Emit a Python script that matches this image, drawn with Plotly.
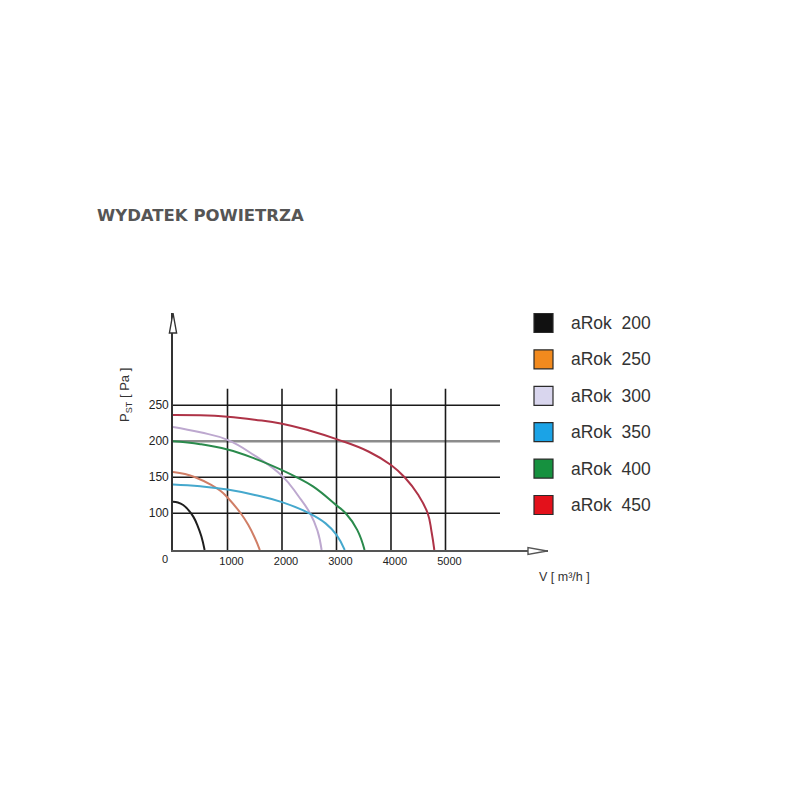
import plotly.graph_objects as go

# fan curves: air volume V [m3/h] against static pressure P [Pa]
SERIES = ['aRok 200', 'aRok 250', 'aRok 300', 'aRok 350', 'aRok 400', 'aRok 450']

V_200 = [0, 90, 187, 300, 375, 450, 520, 580]
P_200 = [116, 115, 111.5, 103, 95, 83, 68, 49]

V_250 = [0, 220, 406, 710, 875, 1000, 1242, 1380, 1500, 1593]
P_250 = [157.5, 154.5, 150, 139, 131, 122, 100, 84, 66, 49]

V_300 = [0, 500, 1000, 1500, 2000, 2300, 2515, 2650, 2727]
P_300 = [220, 212.5, 202, 180, 152, 124, 100, 76, 49]

V_350 = [0, 500, 1000, 1500, 2000, 2502, 2800, 3000, 3151]
P_350 = [140, 137.5, 133, 125.5, 115.5, 100, 86, 70, 49]

V_400 = [0, 500, 1000, 1500, 2000, 2273, 2575, 3000, 3169, 3380, 3515]
P_400 = [200, 196, 188.5, 176, 160, 150, 137, 111, 100, 77, 49]

V_450 = [0, 500, 1000, 1500, 2000, 2500, 3000, 3595, 4000, 4250, 4505, 4673, 4745, 4795]
P_450 = [236.5, 236, 234, 230, 224.5, 215, 203, 185.5, 167, 150, 125, 100, 74, 49]

X_TICKS = [1000, 2000, 3000, 4000, 5000]
Y_TICKS = [100, 150, 200, 250]

LINE_COLORS = ['#1e1e1e', '#d07e66', '#bda8cf', '#45a8cd', '#2a8a4c', '#ae3347']
BOX_COLORS = ['#111111', '#f28a1e', '#d9d6ee', '#1ba3e6', '#16913f', '#e3111b']

curves = [(V_200, P_200), (V_250, P_250), (V_300, P_300),
          (V_350, P_350), (V_400, P_400), (V_450, P_450)]

# plot area, in picture pixels
L, R, T, B = 173, 548, 313, 550
W, H = R - L, B - T
SHIFT = 8  # page margin of the browser
X_MAX = 6881
Y_MIN, Y_MAX = 49, 378.2


def px(x):
    return (x - L) / W


def py(y):
    return (B - y) / H


font = 'Liberation Sans, Arial, sans-serif'

fig = go.Figure()

for (v, p), name, color in zip(curves, SERIES, LINE_COLORS):
    fig.add_trace(go.Scatter(
        x=v, y=p, name=name, mode='lines',
        line=dict(color=color, width=2, shape='spline', smoothing=1.3),
        showlegend=False, hoverinfo='skip'
    ))

shapes = []
for y in Y_TICKS:
    shapes.append(dict(type='line', xref='x', yref='y', x0=0, x1=6000, y0=y, y1=y,
                       line=dict(color='#8c8c8c' if y == 200 else '#1a1a1a',
                                 width=2.4 if y == 200 else 1.6),
                       layer='below'))
for x in X_TICKS:
    shapes.append(dict(type='line', xref='x', yref='y', x0=x, x1=x, y0=Y_MIN, y1=273,
                       line=dict(color='#1a1a1a', width=1.6), layer='below'))

# open arrowheads on the axes
shapes.append(dict(type='path', xref='paper', yref='paper',
                   path=f'M {px(L)} {py(T)} L {px(L + 3.6)} {py(T + 20)} '
                        f'L {px(L - 3.6)} {py(T + 20)} Z',
                   fillcolor='white', line=dict(color='#333', width=1.4)))
shapes.append(dict(type='path', xref='paper', yref='paper',
                   path=f'M {px(547)} {py(551)} L {px(528)} {py(547.5)} '
                        f'L {px(528)} {py(554.5)} Z',
                   fillcolor='white', line=dict(color='#555', width=1.4)))

annotations = []
# legend boxes
for i, (name, color) in enumerate(zip(SERIES, BOX_COLORS)):
    cy = 323 + i * 36.4
    shapes.append(dict(type='rect', xref='paper', yref='paper',
                       x0=px(534), x1=px(553), y0=py(cy - 9.5), y1=py(cy + 9.5),
                       fillcolor=color, line=dict(color='#2a2a2a', width=1.2)))
    annotations.append(dict(xref='paper', yref='paper', x=px(569), y=py(cy),
                            xanchor='left', yanchor='middle', showarrow=False,
                            text=name.replace(' ', '\u00a0\u00a0'),
                            font=dict(family=font, size=17.5, color='#333')))

annotations += [
    dict(xref='paper', yref='paper', x=px(95), y=py(216), xanchor='left', yanchor='middle',
         showarrow=False, text='<b>WYDATEK POWIETRZA</b>',
         font=dict(family='DejaVu Sans, sans-serif', size=16.5, color='#555')),
    dict(xref='paper', yref='paper', x=px(125), y=py(395), textangle=-90,
         xanchor='center', yanchor='middle',
         showarrow=False, text='P<sub>ST</sub> [ Pa ]',
         font=dict(family=font, size=13, color='#333')),
    dict(xref='paper', yref='paper', x=px(564), y=py(577), showarrow=False,
         xanchor='center', yanchor='middle',
         text='V [ m\u00b3/h ]', font=dict(family=font, size=12.5, color='#333')),
    dict(xref='paper', yref='paper', x=px(165), y=py(559), showarrow=False,
         xanchor='center', yanchor='middle',
         text='0', font=dict(family=font, size=11, color='#222')),
]

fig.update_layout(
    width=800, height=800,
    margin=dict(l=L - SHIFT, r=800 - R + SHIFT, t=T - SHIFT, b=800 - B + SHIFT),
    paper_bgcolor='white', plot_bgcolor='white',
    showlegend=False,
    shapes=shapes, annotations=annotations,
    xaxis=dict(range=[0, X_MAX], tickvals=X_TICKS, showgrid=False, zeroline=False,
               showline=True, linecolor='#555', linewidth=1.8, ticks='',
               ticklabelshift=4,
               tickfont=dict(family=font, size=11, color='#222')),
    yaxis=dict(range=[Y_MIN, Y_MAX], tickvals=Y_TICKS, showgrid=False, zeroline=False,
               showline=True, linecolor='#333', linewidth=1.6, ticks='',
               tickfont=dict(family=font, size=12, color='#222')),
)

fig.write_html('out.html')
